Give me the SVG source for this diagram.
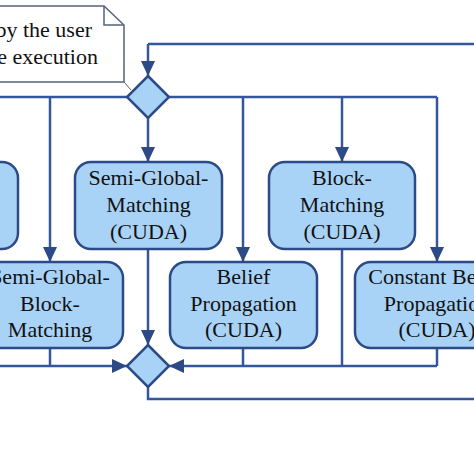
<svg xmlns="http://www.w3.org/2000/svg" width="474" height="474" viewBox="0 0 474 474">
<style>
.box{fill:#a9d3f6;stroke:#2c4a86;stroke-width:2.5}
.dia{fill:#a9d3f6;stroke:#2c4a86;stroke-width:2.5}
.ln{fill:none;stroke:#34569a;stroke-width:2.5}
.t{font-family:"Liberation Serif","Times New Roman",serif;font-size:22px;fill:#111;text-anchor:middle}
.nt{font-family:"Liberation Serif","Times New Roman",serif;font-size:22px;fill:#111;text-anchor:end}
</style>
<defs>
<marker id="ah" markerUnits="userSpaceOnUse" markerWidth="16" markerHeight="16" viewBox="0 0 16 16" refX="15" refY="8" orient="auto">
<path d="M0,1 L15,8 L0,15 Z" fill="#2c4a86"/>
</marker>
</defs>
<rect width="474" height="474" fill="#ffffff"/>
<g id="note">
<path d="M-5,6 H104 L124,25 V82 H-5 Z" fill="#ffffff" stroke="#55637a" stroke-width="1.5"/>
<path d="M104,6 V25 H124" fill="none" stroke="#55637a" stroke-width="1.5"/>
<line x1="124" y1="82" x2="131" y2="90" stroke="#55637a" stroke-width="1"/>
<text class="nt" x="92" y="37">by the user</text>
<text class="nt" x="98" y="64">e execution</text>
</g>
<g id="connectors">
<path class="ln" d="M148,44 H474"/>
<path class="ln" d="M148,44 V76" marker-end="url(#ah)"/>
<path class="ln" d="M0,97 H437"/>
<path class="ln" d="M50,97 V262" marker-end="url(#ah)"/>
<path class="ln" d="M148,118 V162" marker-end="url(#ah)"/>
<path class="ln" d="M243,97 V262" marker-end="url(#ah)"/>
<path class="ln" d="M342,97 V162" marker-end="url(#ah)"/>
<path class="ln" d="M437,97 V262" marker-end="url(#ah)"/>
<path class="ln" d="M148,249 V345" marker-end="url(#ah)"/>
<path class="ln" d="M0,366 H127" marker-end="url(#ah)"/>
<path class="ln" d="M50,348 V366"/>
<path class="ln" d="M437,366 H169" marker-end="url(#ah)"/>
<path class="ln" d="M243,348 V366"/>
<path class="ln" d="M342,249 V366"/>
<path class="ln" d="M437,348 V366"/>
<path class="ln" d="M148,387 V399 H474"/>
</g>
<g id="decision-top"><path class="dia" d="M148,76 L169,97 L148,118 L127,97 Z"/></g>
<g id="merge-bottom"><path class="dia" d="M148,345 L169,366 L148,387 L127,366 Z"/></g>
<g id="node-left-top"><rect class="box" x="-130" y="162" width="148" height="87" rx="16"/></g>
<g id="node-sgm-cuda">
<rect class="box" x="75" y="162" width="147" height="87" rx="16"/>
<text class="t" x="148.5" y="185">Semi-Global-</text>
<text class="t" x="148.5" y="212">Matching</text>
<text class="t" x="148.5" y="239">(CUDA)</text>
</g>
<g id="node-bm-cuda">
<rect class="box" x="269" y="162" width="146" height="87" rx="16"/>
<text class="t" x="342" y="185">Block-</text>
<text class="t" x="342" y="212">Matching</text>
<text class="t" x="342" y="239">(CUDA)</text>
</g>
<g id="node-sgbm">
<rect class="box" x="-23" y="262" width="146" height="86" rx="16"/>
<text class="t" x="50" y="284">Semi-Global-</text>
<text class="t" x="50" y="311">Block-</text>
<text class="t" x="50" y="337">Matching</text>
</g>
<g id="node-bp-cuda">
<rect class="box" x="170" y="262" width="147" height="86" rx="16"/>
<text class="t" x="243.5" y="284">Belief</text>
<text class="t" x="243.5" y="311">Propagation</text>
<text class="t" x="243.5" y="337">(CUDA)</text>
</g>
<g id="node-cbp-cuda">
<rect class="box" x="355" y="262" width="164" height="86" rx="16"/>
<text class="t" x="437" y="284">Constant Belief</text>
<text class="t" x="437" y="311">Propagation</text>
<text class="t" x="437" y="337">(CUDA)</text>
</g>
</svg>
